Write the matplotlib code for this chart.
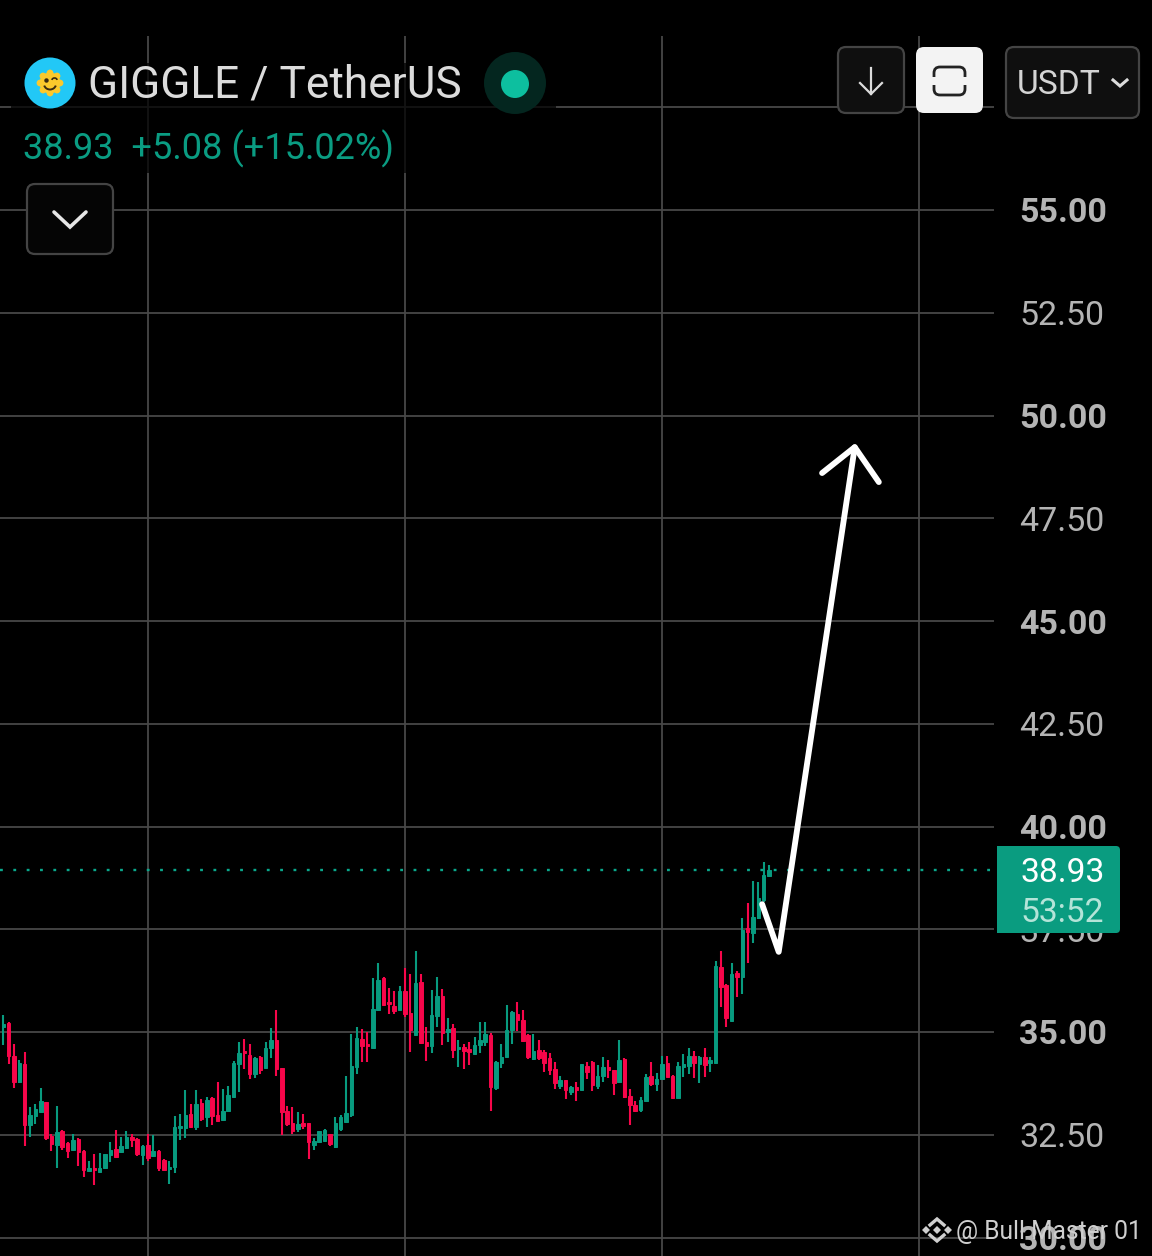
import matplotlib
matplotlib.use("Agg")
import matplotlib.pyplot as plt
from matplotlib.patches import Circle, FancyBboxPatch, Rectangle, Arc

plt.rcParams['font.family'] = ['Roboto', 'DejaVu Sans']

# ---------- data ----------
highs = [35.41,35.25,34.70,34.33,34.52,33.17,33.24,33.63,33.30,32.53,33.21,32.62,32.32,32.52,32.41,32.12,31.86,32.02,32.05,32.04,
         32.32,32.62,32.44,32.58,32.53,32.42,32.25,32.53,32.49,32.14,31.91,31.86,32.95,33.00,33.58,33.25,33.60,33.36,33.43,33.43,
         33.79,33.61,33.69,34.29,34.76,34.82,34.70,34.38,34.41,34.76,35.09,35.53,34.12,33.21,33.17,33.06,33.00,32.78,32.41,32.60,
         32.63,32.53,32.94,32.98,33.93,34.96,35.11,35.07,34.99,36.32,36.67,36.35,36.06,35.99,36.11,36.55,36.40,36.96,36.42,35.11,
         36.02,36.35,36.04,35.35,35.19,34.80,34.70,34.76,34.89,35.25,35.25,34.97,34.29,34.72,35.66,35.51,35.72,35.53,34.94,34.95,
         34.80,34.55,34.49,34.26,33.92,33.82,33.68,33.78,34.23,34.28,34.29,34.20,34.38,34.33,34.08,34.81,34.36,33.61,33.33,33.42,
         33.99,34.26,34.00,34.41,34.42,33.95,34.26,34.46,34.60,34.53,34.42,34.60,34.40,36.73,36.96,36.16,36.69,36.48,37.77,38.13,
         38.67,38.64,39.13,39.06]
lows = [34.68,34.22,33.63,33.77,32.23,32.45,32.76,33.05,32.37,32.10,31.69,32.13,31.93,32.10,31.75,31.46,31.61,31.28,31.59,31.67,
        31.83,31.93,32.05,32.15,32.21,31.99,31.76,31.85,31.97,31.63,31.61,31.29,31.57,32.37,32.41,32.66,32.61,32.83,32.68,32.74,
        32.82,32.83,33.07,33.39,33.53,34.10,33.85,33.87,33.97,34.12,34.36,33.93,32.49,32.71,32.52,32.57,32.63,31.91,32.13,32.32,
        32.32,32.23,32.17,32.58,32.78,32.94,33.99,34.27,34.28,34.60,35.51,35.64,35.43,35.45,35.53,35.37,34.51,34.90,34.72,34.30,
        34.48,35.13,34.68,34.76,34.36,34.14,34.10,34.20,34.45,34.48,34.67,33.07,33.60,34.12,34.38,34.72,35.03,34.76,34.34,34.33,
        34.32,34.02,33.95,33.61,33.61,33.37,33.46,33.32,33.58,33.85,33.56,33.61,33.78,33.87,33.46,33.78,33.40,32.74,33.06,33.05,
        33.31,33.69,33.56,33.86,33.90,33.38,33.39,33.91,33.99,33.87,33.76,33.91,34.02,34.25,35.60,35.11,35.25,35.84,35.92,36.67,
        37.17,37.75,38.17,38.78]
body_tops = [35.19,35.21,34.42,34.25,34.22,32.98,33.12,33.32,33.30,32.48,32.56,32.58,32.29,32.37,32.39,32.10,31.69,31.68,31.69,32.02,
             32.13,32.15,32.23,32.44,32.45,32.40,32.23,32.25,32.11,32.11,31.89,31.72,32.68,32.71,32.98,33.00,33.26,33.28,33.35,33.39,
             32.98,33.08,33.47,34.24,34.48,34.54,34.44,34.36,34.38,34.62,34.81,34.81,34.12,33.09,32.78,32.75,32.79,32.78,32.36,32.58,
             32.62,32.53,32.79,32.94,33.02,34.17,34.85,34.82,34.70,35.56,36.27,36.32,35.72,35.64,36.00,36.00,35.47,36.20,36.21,34.76,
             35.41,35.88,35.88,35.08,35.09,34.63,34.64,34.58,34.68,34.81,34.95,34.93,34.27,34.40,35.05,35.49,35.45,35.29,34.93,34.54,
             34.56,34.52,34.36,34.09,33.82,33.82,33.65,33.65,34.22,34.17,34.28,33.94,34.16,34.16,34.08,34.33,34.34,33.44,33.22,33.35,
             33.91,33.93,33.85,34.21,34.24,33.93,34.18,34.21,34.42,34.42,34.40,34.38,34.32,36.61,36.59,36.14,36.41,36.43,37.48,37.52,
             37.81,38.25,38.82,38.93]
body_bottoms = [35.13,34.42,33.79,33.79,32.74,32.74,32.96,33.06,32.41,32.28,32.25,32.21,32.11,32.13,32.07,31.64,31.63,31.64,31.59,31.70,
                32.01,31.97,32.07,32.17,32.37,32.02,32.01,31.93,31.98,31.68,31.64,31.66,31.71,32.66,32.67,32.70,32.70,32.88,32.94,32.96,
                32.84,32.85,33.09,33.43,34.21,34.48,33.97,33.98,34.08,34.13,34.60,34.09,33.06,32.76,32.58,32.64,32.71,32.33,32.24,32.33,
                32.36,32.27,32.19,32.64,32.82,32.98,34.16,34.67,34.66,34.62,35.54,35.66,35.67,35.51,35.54,35.44,35.05,34.92,34.74,34.66,
                34.66,35.39,34.98,35.00,34.56,34.59,34.54,34.52,34.46,34.68,34.76,33.65,33.63,34.24,34.38,35.05,35.29,34.79,34.38,34.34,
                34.36,34.24,34.08,33.75,33.69,33.59,33.55,33.59,33.59,34.02,33.71,33.69,33.93,34.08,33.77,33.79,33.41,33.22,33.09,33.10,
                33.33,33.73,33.73,33.86,33.91,33.39,33.39,34.16,34.17,34.24,34.21,34.20,34.25,34.25,36.10,35.33,35.27,36.33,36.33,37.44,
                37.42,37.77,38.20,38.80]
# 1 = rising (green), 0 = falling (red)
rising = [1,0,0,1,0,1,1,1,0,0,1,0,0,1,0,0,1,0,1,1,
          1,0,1,1,0,0,1,0,1,0,0,1,1,1,1,0,1,0,1,0,
          0,1,1,1,1,0,0,1,0,1,1,0,0,0,0,1,0,0,1,1,
          1,0,1,1,1,1,1,0,0,1,1,0,0,0,1,0,0,1,0,0,
          1,1,0,1,0,1,0,0,1,1,1,0,1,1,1,1,0,0,0,1,
          0,0,0,0,1,0,1,0,1,0,0,1,1,0,0,1,0,0,0,1,
          1,0,1,1,0,0,1,1,1,0,1,0,1,1,0,0,1,0,1,0,
          1,1,1,1]
price_ticks = [30.0,32.5,35.0,37.5,40.0,42.5,45.0,47.5,50.0,52.5,55.0,57.5]
time_grid = [27,75,123,171]
last_price = 38.93
arrow_idx = [141.7,144.8,159.0]
arrow_price = [38.11,36.95,49.23]
head_idx = [152.9,159.0,163.5]
head_price = [48.60,49.23,48.38]

UP = '#089b7f'
DOWN = '#f7064a'
GRID = '#484848'
LABEL = '#b4b4b4'

W, H = 1152, 1256
fig = plt.figure(figsize=(W/100, H/100), dpi=100, facecolor='black')
AX_W = 994
ax = fig.add_axes([0, 0, AX_W/W, 1], facecolor='black')

PX_PER_PRICE = 41.1
PX_PER_BAR = 5.355
ax.set_xlim(-3.3/PX_PER_BAR, (AX_W-3.3)/PX_PER_BAR)
ax.set_ylim(35-224/PX_PER_PRICE, 35+1032/PX_PER_PRICE)
for s in ax.spines.values():
    s.set_visible(False)

ax.yaxis.tick_right()
ax.set_yticks(price_ticks)
ax.set_yticklabels([f'{v:.2f}' if v != 57.5 else '' for v in price_ticks], fontsize=24.5, color=LABEL)
for v, t in zip(price_ticks, ax.get_yticklabels()):
    if v % 5 == 0:
        t.set_fontweight('bold')
ax.tick_params(axis='y', length=0, pad=18)
ax.tick_params(axis='x', length=0, labelbottom=False)
ax.set_xticks([])
ax.grid(axis='y', color=GRID, lw=1.3, zorder=0)
ax.set_axisbelow(True)
ax.vlines(time_grid, 20, 35+(1032-36)/PX_PER_PRICE, color=GRID, lw=1.3, zorder=0.5)

xs = list(range(len(highs)))
colors = [UP if r else DOWN for r in rising]
ax.vlines(xs, lows, highs, colors=colors, lw=1.5, zorder=2)
ax.bar(xs, [t-b for t, b in zip(body_tops, body_bottoms)], bottom=body_bottoms, width=0.66,
       color=colors, edgecolor=colors, linewidth=0.7, zorder=3)

ax.plot([ax.get_xlim()[0], ax.get_xlim()[1]], [last_price, last_price], color='#0aa88c', lw=1.7,
        dashes=(1.2, 4.45), dash_capstyle='butt', zorder=1.5)

ax.plot(arrow_idx, arrow_price, color='white', lw=4.2, solid_capstyle='round', solid_joinstyle='round', zorder=6)
ax.plot(head_idx, head_price, color='white', lw=4.2, solid_capstyle='round', solid_joinstyle='round', zorder=6)

# ---------- overlay in pixel space for the app's interface ----------
ui = fig.add_axes([0, 0, 1, 1], zorder=5)
ui.set_xlim(0, W)
ui.set_ylim(H, 0)
ui.axis('off')
ui.patch.set_alpha(0)

ui.add_patch(Rectangle((11, 63), 545, 110, facecolor='black', alpha=0.72, lw=0))

# logo
ui.add_patch(Circle((50, 83), 25.5, color='#22c8f6', lw=0))
ui.add_patch(Circle((50, 83), 10.5, color='#fbc92c', lw=0))
for dx, dy in [(0,-10),(7,-7),(10,0),(7,7),(0,10),(-7,7),(-10,0),(-7,-7)]:
    ui.add_patch(Circle((50+dx, 83+dy), 3.4, color='#fbc92c', lw=0))
ui.add_patch(Arc((50, 84), 12, 11, theta1=15, theta2=165, color='#3a2a10', lw=1.4))
ui.plot([45.5], [80], 'o', ms=2.2, color='#3a2a10')
ui.add_patch(Arc((54.5, 80), 5, 4, theta1=180, theta2=360, color='#3a2a10', lw=1.2))

ui.text(88, 81, 'GIGGLE / TetherUS', fontsize=31.9, color='#dcdcdc', va='center_baseline', ha='left')
ui.text(23, 145, '38.93  +5.08 (+15.02%)', fontsize=26, color='#0a9c82', va='center_baseline', ha='left')

ui.add_patch(Circle((515, 83), 31, color='#04261f', lw=0))
ui.add_patch(Circle((515, 84), 14, color='#0dbf9f', lw=0))

def box(x0, y0, x1, y1, fc, ec, r=8, lw=1.6):
    ui.add_patch(FancyBboxPatch((x0+r, y0+r), x1-x0-2*r, y1-y0-2*r, boxstyle=f'round,pad={r},rounding_size={r}',
                                facecolor=fc, edgecolor=ec, lw=lw))

box(27, 184, 113, 254, '#050505', '#444444')
ui.plot([54, 70, 86], [212, 227, 212], color='#e6e6e6', lw=2.6, solid_capstyle='round', solid_joinstyle='miter')

box(838, 47, 904, 113, '#0f0f0f', '#444444')
ui.plot([871, 871], [68, 94], color='#dcdcdc', lw=1.6)
ui.plot([860, 871, 882], [83, 94, 83], color='#dcdcdc', lw=1.6, solid_joinstyle='miter')

box(916, 47, 983, 113, '#f3f3f3', '#f3f3f3', lw=0)
box(934, 67, 965, 95, '#f3f3f3', '#222222', r=6, lw=2)
ui.add_patch(Rectangle((931, 77), 38, 8, color='#f3f3f3', lw=0, zorder=3))

box(1006, 47, 1139, 118, '#0f0f0f', '#444444')
ui.text(1017, 81, 'USDT', fontsize=24.2, color='#d4d4d4', va='center_baseline', ha='left')
ui.plot([1113, 1120, 1127], [80, 86, 80], color='#dcdcdc', lw=2.2, solid_joinstyle='miter')

# last price tag
box(997, 846, 1120, 933, '#0a9c80', '#0a9c80', r=4, lw=0)
ui.add_patch(Rectangle((997, 846), 10, 87, color='#0a9c80', lw=0))
ui.text(1020, 870, '38.93', fontsize=24.2, color='white', va='center_baseline', ha='left', zorder=4)
ui.text(1020, 909, '53:52', fontsize=24.2, color='#b4e4d8', va='center_baseline', ha='left', zorder=4)

# watermark
WM = '#cfcfcf'
ui.text(956, 1230, '@ Bull Master 01', fontsize=17.7, color=WM, va='center_baseline', ha='left')
ui.plot([937, 926, 948], [1230, 1230, 1230], ls='none', marker='D', ms=3.6, color=WM, mew=0)
ui.plot([930, 937, 944], [1225, 1219, 1225], color=WM, lw=2.4, solid_joinstyle='miter')
ui.plot([930, 937, 944], [1235, 1241, 1235], color=WM, lw=2.4, solid_joinstyle='miter')

fig.savefig('out.png', dpi=100, facecolor='black')
